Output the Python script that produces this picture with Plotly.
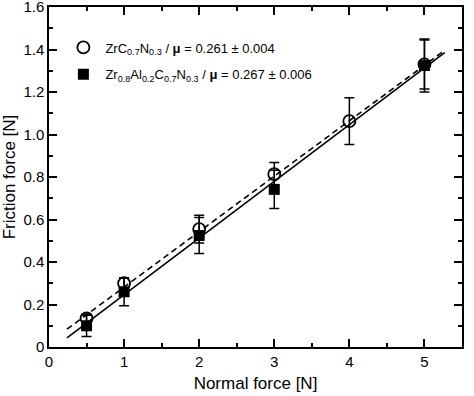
import plotly.graph_objects as go

normal_force = [0.5, 1, 2, 3, 4, 5]
zrcn_friction = [0.135, 0.30, 0.555, 0.814, 1.063, 1.33]
zrcn_err = [0.02, 0.025, 0.065, 0.055, 0.11, 0.115]
zralcn_x = [0.5, 1, 2, 3, 5]
zralcn_friction = [0.10, 0.26, 0.525, 0.742, 1.325]
zralcn_err = [0.05, 0.066, 0.085, 0.09, 0.125]

fit_x = [0.24, 5.27]
mu_zrcn, b_zrcn = 0.261, 0.021
mu_zralcn, b_zralcn = 0.267, -0.021

y_ticks = [0, 0.2, 0.4, 0.6, 0.8, 1.0, 1.2, 1.4, 1.6]
y_ticktext = ["0", "0.2", "0.4", "0.6", "0.8", "1.0", "1.2", "1.4", "1.6"]
x_ticks = [0, 1, 2, 3, 4, 5]

label_zrcn = "ZrC<sub>0.7</sub>N<sub>0.3</sub> / <b>μ</b> = 0.261 ± 0.004"
label_zralcn = "Zr<sub>0.8</sub>Al<sub>0.2</sub>C<sub>0.7</sub>N<sub>0.3</sub> / <b>μ</b> = 0.267 ± 0.006"

fig = go.Figure()

fig.add_trace(go.Scatter(
    x=fit_x, y=[mu_zrcn * x + b_zrcn for x in fit_x], mode="lines",
    line=dict(color="black", width=1.6, dash="6px,4px"), showlegend=False))
fig.add_trace(go.Scatter(
    x=fit_x, y=[mu_zralcn * x + b_zralcn for x in fit_x], mode="lines",
    line=dict(color="black", width=1.6), showlegend=False))

fig.add_trace(go.Scatter(
    x=zralcn_x, y=zralcn_friction, mode="markers", name=label_zralcn,
    legendgroup="b", legendrank=2,
    marker=dict(symbol="square", size=11, color="black"),
    error_y=dict(type="data", array=zralcn_err, color="black", thickness=1.5, width=5)))
fig.add_trace(go.Scatter(
    x=normal_force, y=zrcn_friction, mode="markers", name=label_zrcn,
    legendgroup="a", legendrank=1,
    marker=dict(symbol="circle-open", size=12, color="black", line=dict(width=1.8)),
    error_y=dict(type="data", array=zrcn_err, color="black", thickness=1.5, width=5)))

axis_common = dict(
    showline=True, linecolor="black", linewidth=1.5, mirror="allticks",
    ticks="inside", ticklen=8, tickwidth=1.5, tickcolor="black",
    showgrid=False, zeroline=False, automargin=False, ticklabeloverflow="allow",
    tickfont=dict(family="Liberation Sans, Arial", size=15, color="black"),
)

fig.update_xaxes(
    range=[0, 5.5], tickvals=x_ticks,
    minor=dict(ticks="inside", ticklen=4, tickwidth=1.5, tickcolor="black", dtick=0.5, showgrid=False),
    title=dict(text="Normal force [N]", font=dict(family="Liberation Sans, Arial", size=17, color="black"), standoff=8),
    **axis_common)
fig.update_yaxes(
    range=[0, 1.6005], tickvals=y_ticks, ticktext=y_ticktext,
    minor=dict(ticks="inside", ticklen=4, tickwidth=1.5, tickcolor="black", dtick=0.1, showgrid=False),
    title=dict(text="Friction force [N]", font=dict(family="Liberation Sans, Arial", size=17, color="black"), standoff=4),
    **axis_common)

fig.update_layout(
    width=474, height=396,
    margin=dict(l=49, r=12, t=7, b=49),
    plot_bgcolor="white", paper_bgcolor="white",
    legend=dict(x=0.03, y=0.925, xanchor="left", yanchor="top",
                font=dict(family="Liberation Sans, Arial", size=13, color="black"),
                bgcolor="rgba(0,0,0,0)", tracegroupgap=7, itemwidth=34),
    font=dict(family="Liberation Sans, Arial", color="black"),
)

fig.write_html("out.html", config={"displayModeBar": False},
               post_script="document.body.style.margin='0';")
